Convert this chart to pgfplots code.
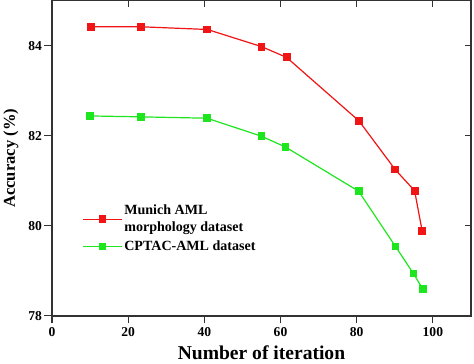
\documentclass[border=0pt]{standalone}
\usepackage{pgfplots}
\pgfplotsset{compat=1.18}
\usepackage{fontspec}
\setmainfont{Liberation Serif}
\definecolor{lred}{RGB}{240,20,20}
\definecolor{lgreen}{RGB}{30,230,30}
\begin{document}
\begin{tikzpicture}
\begin{axis}[
  scale only axis,
  width=416bp, height=313bp,
  xmin=0, xmax=110, ymin=78, ymax=85,
  xtick={0,20,40,60,80,100},
  ytick={78,80,82,84},
  minor tick num=0,
  axis line style={line width=1.3pt, color=black!80},
  tick style={line width=1.1pt, color=black!80},
  major tick length=7.5bp,
  tick align=outside,
  xtick pos=bottom, ytick pos=left,
  /pgf/number format/assume math mode=true,
  ticklabel style={font=\fontsize{13.5}{15}\selectfont\bfseries},
  yticklabel style={xshift=1pt},
  xlabel={Number of iteration},
  ylabel={Accuracy (\%)},
  xlabel style={font=\fontsize{19.5}{22}\selectfont\bfseries, yshift=-3pt},
  ylabel style={font=\fontsize{16.5}{18}\selectfont\bfseries, yshift=3pt},
  legend style={draw=none, fill=none, at={(0.066,0.365)}, anchor=north west,
    font=\fontsize{14}{17}\selectfont\bfseries, cells={align=left},
    row sep=3.5pt},
  legend cell align=left,
  legend image code/.code={\draw[mark repeat=2,mark phase=2,#1] plot coordinates {(0bp,0bp) (19bp,0bp) (38bp,0bp)};},
  every axis plot/.append style={line width=1.2pt},
]
\addplot[color=lred, mark=square*, mark size=3.3pt, mark options={solid}] coordinates {
(10.2,84.42) (23.3,84.42) (40.8,84.36) (55.0,83.98) (61.6,83.74) (80.6,82.33) (90.1,81.25) (95.2,80.78) (97.2,79.88)};
\addlegendentry{Munich AML\\morphology dataset}
\addplot[color=lgreen, mark=square*, mark size=3.3pt] coordinates {
(10.0,82.44) (23.3,82.42) (40.7,82.39) (55.0,81.99) (61.3,81.75) (80.5,80.77) (90.2,79.54) (94.9,78.94) (97.4,78.59)};
\addlegendentry{CPTAC-AML dataset}
\end{axis}
\begin{axis}[
  overlay,
  scale only axis,
  width=416bp, height=313bp,
  xmin=0, xmax=110, ymin=78, ymax=85,
  xtick={0,20,40,60,80,100},
  ytick={78,80,82,84},
  axis line style={draw=none},
  tick style={line width=1.1pt, color=black!80},
  major tick length=6bp,
  tick align=inside,
  xtick pos=top, ytick pos=right,
  xticklabels={}, yticklabels={},
]
\end{axis}
\path (current axis.east) ++(3bp,0);
\end{tikzpicture}
\end{document}
